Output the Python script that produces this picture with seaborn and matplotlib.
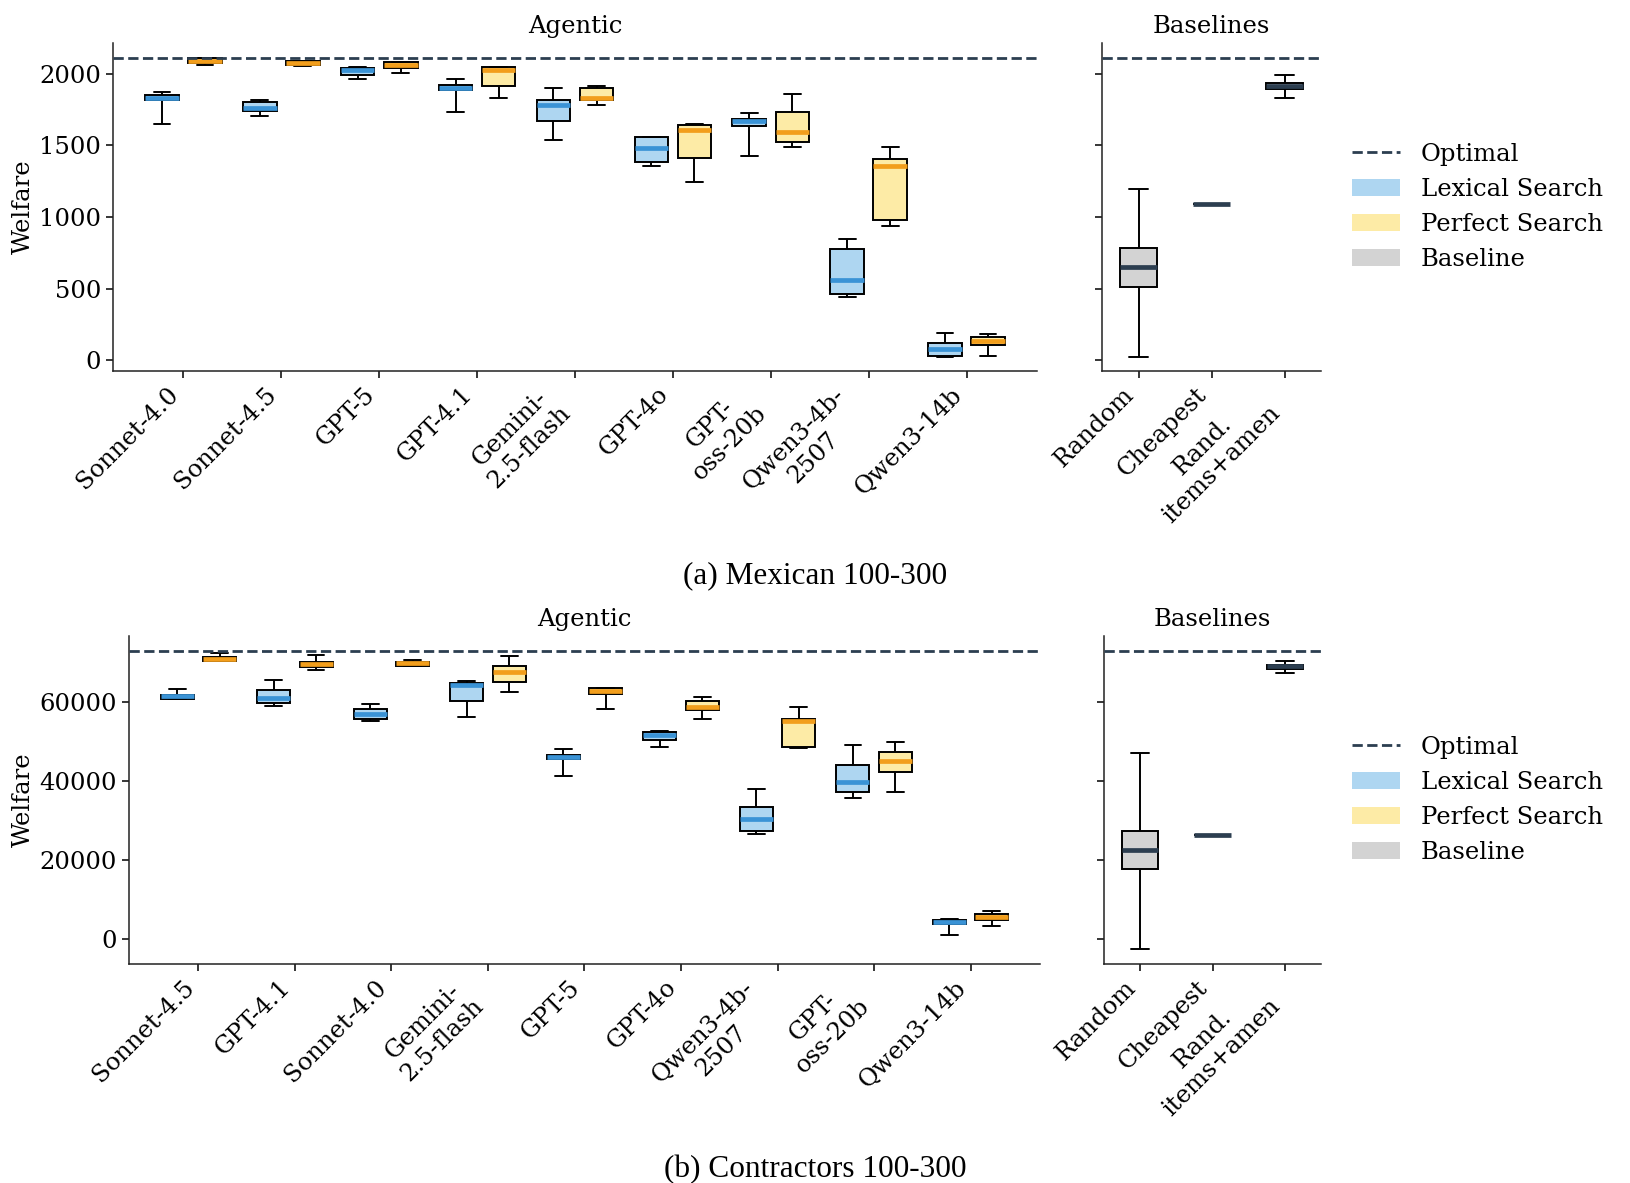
import numpy as np
import pandas as pd
import matplotlib
matplotlib.use("Agg")
import matplotlib.pyplot as plt
import seaborn as sns
from matplotlib.lines import Line2D
from matplotlib.patches import Patch

# ---------------- data (5-number summaries: min, q1, median, q3, max) ----------------
mex_models = ["Sonnet-4.0", "Sonnet-4.5", "GPT-5", "GPT-4.1", "Gemini-\n2.5-flash",
              "GPT-4o", "GPT-\noss-20b", "Qwen3-4b-\n2507", "Qwen3-14b"]
mex_lexical = [
    [1649, 1812, 1830, 1853, 1872],
    [1702, 1741, 1760, 1802, 1814],
    [1965, 1993, 2023, 2040, 2047],
    [1732, 1884, 1900, 1919, 1965],
    [1535, 1672, 1781, 1816, 1900],
    [1354, 1381, 1481, 1558, 1558],
    [1423, 1635, 1670, 1684, 1728],
    [442, 465, 563, 774, 844],
    [23, 30, 79, 121, 191],
]
mex_perfect = [
    [2058, 2072, 2088, 2105, 2108],
    [2055, 2060, 2072, 2085, 2088],
    [2002, 2042, 2063, 2079, 2083],
    [1828, 1916, 2028, 2044, 2048],
    [1779, 1812, 1830, 1898, 1916],
    [1240, 1409, 1609, 1640, 1647],
    [1491, 1521, 1595, 1730, 1858],
    [933, 975, 1353, 1406, 1489],
    [30, 107, 137, 163, 181],
]
mex_base_names = ["Random", "Cheapest", "Rand.\nitems+amen"]
mex_baselines = [
    [26, 509, 647, 781, 1198],
    [1088, 1088, 1088, 1088, 1088],
    [1830, 1893, 1914, 1933, 1991],
]
mex_optimal = 2110
mex_yticks = [0, 500, 1000, 1500, 2000]

con_models = ["Sonnet-4.5", "GPT-4.1", "Sonnet-4.0", "Gemini-\n2.5-flash", "GPT-5",
              "GPT-4o", "Qwen3-4b-\n2507", "GPT-\noss-20b", "Qwen3-14b"]
con_lexical = [
    [60750, 60900, 61500, 61840, 63430],
    [59060, 59740, 61160, 63100, 65620],
    [55200, 55700, 56970, 58300, 59490],
    [56360, 60320, 64360, 64790, 65450],
    [41390, 45760, 46190, 46610, 48290],
    [48630, 50480, 51820, 52580, 52700],
    [26750, 27430, 30370, 33570, 38040],
    [35920, 37430, 39880, 44170, 49300],
    [1260, 4040, 4540, 4970, 5130],
]
con_perfect = [
    [70400, 70420, 71000, 71430, 72600],
    [68070, 68830, 69740, 70340, 72010],
    [69230, 69230, 69920, 70340, 70750],
    [62600, 65200, 67720, 69160, 71680],
    [58230, 62090, 62850, 63600, 63680],
    [55860, 58050, 58730, 60320, 61330],
    [48380, 48790, 55350, 55700, 58730],
    [37280, 42330, 45260, 47450, 49900],
    [3370, 5050, 5800, 6560, 7320],
]
con_base_names = ["Random", "Cheapest", "Rand.\nitems+amen"]
con_baselines = [
    [-2440, 17920, 22540, 27340, 47200],
    [26420, 26420, 26420, 26420, 26420],
    [67470, 68480, 69160, 69580, 70590],
]
con_optimal = 73000
con_yticks = [0, 20000, 40000, 60000]

methods = ["Lexical Search", "Perfect Search"]
fill_colors = {"Lexical Search": "#AED6F1", "Perfect Search": "#FDEBA6", "Baseline": "#D3D3D3"}
median_colors = {"Lexical Search": "#3A93D6", "Perfect Search": "#F29E1C", "Baseline": "#2C3E50"}
navy = "#2C3E50"

# ---------------- style ----------------
sns.set_style("ticks")
plt.rcParams["font.family"] = ["DejaVu Serif"]
plt.rcParams["text.color"] = "black"
plt.rcParams["xtick.color"] = "black"
plt.rcParams["ytick.color"] = "black"
plt.rcParams["axes.labelcolor"] = "black"
plt.rcParams["axes.edgecolor"] = "#222222"
plt.rcParams["axes.linewidth"] = 1.1
plt.rcParams["xtick.major.width"] = 1.1
plt.rcParams["ytick.major.width"] = 1.1
plt.rcParams["xtick.major.size"] = 5
plt.rcParams["ytick.major.size"] = 5
FS = 17.5

W, H = 1630, 1183
fig = plt.figure(figsize=(W / 100, H / 100), dpi=100)


def frac(l, t, r, b):
    return [l / W, 1 - b / H, (r - l) / W, (b - t) / H]


def recolor_medians(ax):
    for cont in ax.containers:
        if not hasattr(cont, "medians"):
            continue
        for box, med in zip(cont.boxes, cont.medians):
            fc = np.array(box.get_facecolor()[:3])
            best = min(fill_colors, key=lambda k: np.sum((np.array(matplotlib.colors.to_rgb(fill_colors[k])) - fc) ** 2))
            med.set_color(median_colors[best])
            med.set_solid_capstyle("butt")


def panel(ax_a, ax_b, models, lex, perf, bnames, bstats, optimal, ylim, yticks, ylabel_x):
    rows = []
    for m, s in zip(models, lex):
        rows += [(m, "Lexical Search", v) for v in s]
    for m, s in zip(models, perf):
        rows += [(m, "Perfect Search", v) for v in s]
    df = pd.DataFrame(rows, columns=["model", "method", "value"])
    sns.boxplot(data=df, x="model", y="value", hue="method", order=models,
                hue_order=methods, palette=fill_colors, saturation=1,
                width=0.88, gap=0.22, whis=(0, 100), linecolor="black",
                linewidth=1.4, medianprops={"linewidth": 3.4}, showfliers=False,
                legend=False, ax=ax_a)
    recolor_medians(ax_a)

    brows = []
    for n, s in zip(bnames, bstats):
        brows += [(n, v) for v in s]
    bdf = pd.DataFrame(brows, columns=["baseline", "value"])
    sns.boxplot(data=bdf, x="baseline", y="value", order=bnames,
                color=fill_colors["Baseline"], saturation=1, width=0.5,
                whis=(0, 100), linecolor="black", linewidth=1.4,
                medianprops={"linewidth": 3.4}, showfliers=False, ax=ax_b)
    recolor_medians(ax_b)

    for ax in (ax_a, ax_b):
        ax.axhline(optimal, color=navy, ls="--", lw=2.0, zorder=5)
        ax.set_ylim(*ylim)
        ax.set_yticks(yticks)
        ax.set_xlabel("")
        ax.set_ylabel("")
        sns.despine(ax=ax)
        ax.tick_params(labelsize=FS)
    ax_a.set_xlim(-0.72, 8.72)
    ax_b.set_xlim(-0.5, 2.5)
    ax_a.set_xticks(range(len(models)))
    ax_a.set_xticklabels(models, rotation=45, ha="right", ma="center", fontsize=FS)
    ax_b.set_xticks(range(len(bnames)))
    ax_b.set_xticklabels(bnames, rotation=45, ha="right", ma="center", fontsize=FS)
    ax_b.tick_params(axis="y", labelleft=False)
    ax_a.set_title("Agentic", fontsize=FS, pad=7)
    ax_b.set_title("Baselines", fontsize=FS, pad=7)
    ax_a.set_ylabel("Welfare", fontsize=FS)
    ax_a.yaxis.set_label_coords(ylabel_x, 0.5)

    handles = [Line2D([0], [0], color=navy, ls="--", lw=2.0),
               Patch(facecolor=fill_colors["Lexical Search"], edgecolor="none"),
               Patch(facecolor=fill_colors["Perfect Search"], edgecolor="none"),
               Patch(facecolor=fill_colors["Baseline"], edgecolor="none")]
    ax_b.legend(handles, ["Optimal", "Lexical Search", "Perfect Search", "Baseline"],
                loc="center left", bbox_to_anchor=(1.04, 0.5), frameon=False,
                fontsize=FS, handlelength=2.0, handletextpad=0.85, labelspacing=0.5)


ax1 = fig.add_axes(frac(113, 43, 1037, 371))
ax2 = fig.add_axes(frac(1102, 43, 1321, 371))
panel(ax1, ax2, mex_models, mex_lexical, mex_perfect, mex_base_names, mex_baselines,
      mex_optimal, (-75, 2213), mex_yticks, -0.085)

ax3 = fig.add_axes(frac(129, 636, 1040, 964))
ax4 = fig.add_axes(frac(1104, 636, 1321, 964))
panel(ax3, ax4, con_models, con_lexical, con_perfect, con_base_names, con_baselines,
      con_optimal, (-6200, 76800), con_yticks, -0.103)

fig.text(0.5, 1 - 576 / H, "(a) Mexican 100-300", ha="center", va="center",
         fontsize=22.5, family=["Liberation Serif", "DejaVu Serif"])
fig.text(0.5, 1 - 1170 / H, "(b) Contractors 100-300", ha="center", va="center",
         fontsize=22.5, family=["Liberation Serif", "DejaVu Serif"])

fig.savefig("out.png", dpi=100)
